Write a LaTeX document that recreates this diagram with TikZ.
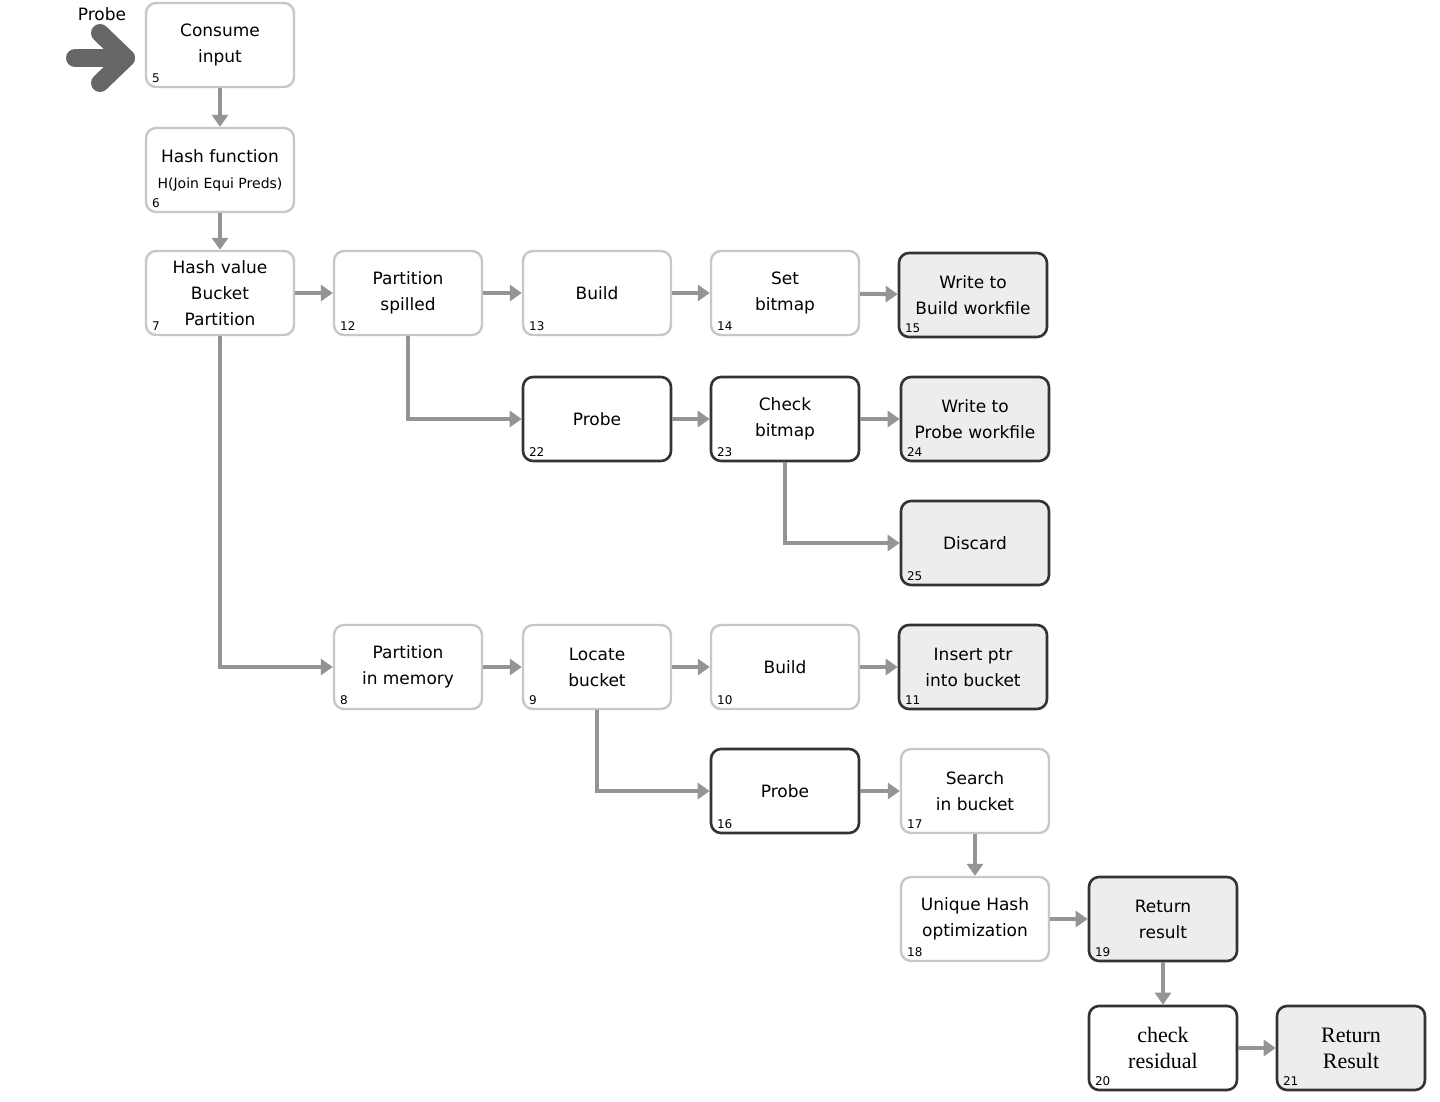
\documentclass[tikz,border=0pt]{standalone}
\usepackage{fontspec}
\setmainfont{DejaVu Sans}
\newfontfamily\serifx{Liberation Serif}
\usetikzlibrary{arrows.meta}
\begin{document}
\begin{tikzpicture}[x=0.5pt,y=-0.5pt,
 box/.style={draw=black!22,line width=1.2pt,rounded corners=5pt,minimum width=74pt,minimum height=42pt,align=center,font=\fontsize{8.5}{13}\selectfont,fill=white},
 dbox/.style={box,draw=black!80,line width=1.3pt},
 gbox/.style={dbox,fill=black!7},
 num/.style={font=\fontsize{6}{6}\selectfont,anchor=south west,inner sep=1.5pt},
 arr/.style={draw=black!42,line width=2pt,-{Triangle[length=6pt,width=8pt]}}]
\useasboundingbox (0,0) rectangle (1440,1102);
\newcommand\bx[6]{\node[#1] (#2) at (#3,#4) {#5}; \node[num] at ([xshift=2pt,yshift=1pt]#2.south west) {#6};}
\bx{box}{n5}{220}{45}{Consume\\input}{5}
\bx{box}{n6}{220}{170}{Hash function\\{\fontsize{7}{9}\selectfont H(Join Equi Preds)}}{6}
\bx{box}{n7}{220}{293}{Hash value\\Bucket\\Partition}{7}
\bx{box}{n12}{408}{293}{Partition\\spilled}{12}
\bx{box}{n13}{597}{293}{Build}{13}
\bx{box}{n14}{785}{293}{Set\\bitmap}{14}
\bx{gbox}{n15}{973}{295}{Write to\\Build workfile}{15}
\bx{dbox}{n22}{597}{419}{Probe}{22}
\bx{dbox}{n23}{785}{419}{Check\\bitmap}{23}
\bx{gbox}{n24}{975}{419}{Write to\\Probe workfile}{24}
\bx{gbox}{n25}{975}{543}{Discard}{25}
\bx{box}{n8}{408}{667}{Partition\\in memory}{8}
\bx{box}{n9}{597}{667}{Locate\\bucket}{9}
\bx{box}{n10}{785}{667}{Build}{10}
\bx{gbox}{n11}{973}{667}{Insert ptr\\into bucket}{11}
\bx{dbox}{n16}{785}{791}{Probe}{16}
\bx{box}{n17}{975}{791}{Search\\in bucket}{17}
\bx{box}{n18}{975}{919}{Unique Hash\\optimization}{18}
\bx{gbox}{n19}{1163}{919}{Return\\result}{19}
\bx{dbox}{n20}{1163}{1048}{\serifx\fontsize{11}{11}\selectfont check\\\serifx\fontsize{11}{11}\selectfont residual}{20}
\bx{gbox}{n21}{1351}{1048}{\serifx\fontsize{11}{11}\selectfont Return\\\serifx\fontsize{11}{11}\selectfont Result}{21}
\node[font=\fontsize{8.5}{10}\selectfont] (pl) at (102,14) {Probe};
\coordinate (a0) at (75,58); \coordinate (a1) at (126,58);
\draw[draw=black!60,line width=9pt,line cap=round] (a0) -- (a1);
\draw[draw=black!60,line width=9pt,line cap=round,line join=round] (100,33) -- (a1) -- (100,83);
\draw[arr] (n5) -- (n6);
\draw[arr] (n6) -- (n7);
\draw[arr] (n7) -- (n12);
\draw[arr] (n12) -- (n13);
\draw[arr] (n13) -- (n14);
\draw[arr] (n14) -- (n15);
\draw[arr] (n12.south) |- (n22);
\draw[arr] (n22) -- (n23);
\draw[arr] (n23) -- (n24);
\draw[arr] (n23.south) |- (n25);
\draw[arr] (n7.south) |- (n8);
\draw[arr] (n8) -- (n9);
\draw[arr] (n9) -- (n10);
\draw[arr] (n10) -- (n11);
\draw[arr] (n9.south) |- (n16);
\draw[arr] (n16) -- (n17);
\draw[arr] (n17) -- (n18);
\draw[arr] (n18) -- (n19);
\draw[arr] (n19) -- (n20);
\draw[arr] (n20) -- (n21);
\end{tikzpicture}
\end{document}
